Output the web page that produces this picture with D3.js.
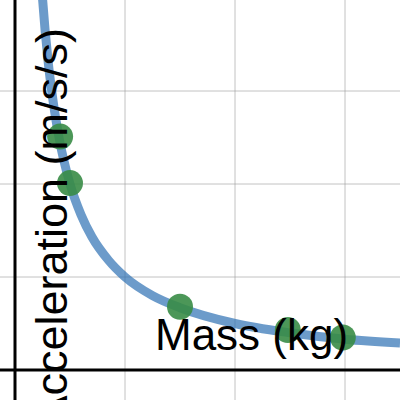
<!DOCTYPE html>
<html><head><meta charset="utf-8">
<script src="https://cdn.jsdelivr.net/npm/d3@7"></script>
<style>body{margin:0;background:#fff}svg{display:block}</style>
</head><body>
<svg id="c" width="400" height="400"></svg>
<script>
const pointX = [0.41, 0.5, 1.5, 2.48, 2.98];
const pointY = [2.51, 2.01, 0.68, 0.43, 0.35];
const curveX = [0.22, 0.25, 0.3, 0.35, 0.4, 0.5, 0.6, 0.7, 0.85, 1, 1.25, 1.5, 2, 2.5, 3, 3.5];
const curveY = [4.55, 4.0, 3.33, 2.86, 2.5, 2.0, 1.67, 1.43, 1.18, 1.0, 0.8, 0.67, 0.5, 0.4, 0.33, 0.29];
const gridX = [1, 2, 3];
const gridY = [1, 2, 3];
const xLabel = "Mass (kg)";
const yLabel = "Acceleration (m/s/s)";

const svg = d3.select("#c");
const x = d3.scaleLinear().domain([-15/110, 385/110]).range([0, 400]);
const y = d3.scaleLinear().domain([-30/93, 370/93]).range([400, 0]);

svg.selectAll(".gx").data(gridX).enter().append("line")
  .attr("x1", d => x(d)).attr("x2", d => x(d)).attr("y1", 0).attr("y2", 400)
  .attr("stroke", "#999").attr("stroke-opacity", 0.6).attr("stroke-width", 1);
svg.selectAll(".gy").data(gridY).enter().append("line")
  .attr("y1", d => y(d)).attr("y2", d => y(d)).attr("x1", 0).attr("x2", 400)
  .attr("stroke", "#999").attr("stroke-opacity", 0.6).attr("stroke-width", 1);
svg.append("line").attr("x1", x(0)).attr("x2", x(0)).attr("y1", 0).attr("y2", 400)
  .attr("stroke", "#000").attr("stroke-width", 3);
svg.append("line").attr("y1", y(0)).attr("y2", y(0)).attr("x1", 0).attr("x2", 400)
  .attr("stroke", "#000").attr("stroke-width", 3);

const line = d3.line().x(d => x(d[0])).y(d => y(d[1])).curve(d3.curveMonotoneX);
svg.append("path").datum(curveX.map((v, i) => [v, curveY[i]]))
  .attr("d", line).attr("fill", "none").attr("stroke", "#2d70b3")
  .attr("stroke-opacity", 0.7).attr("stroke-width", 9);

svg.selectAll(".pt").data(pointX).enter().append("circle")
  .attr("cx", d => x(d)).attr("cy", (d, i) => y(pointY[i])).attr("r", 13)
  .attr("fill", "#388c46").attr("fill-opacity", 0.9);

svg.append("text").attr("transform", `translate(${x(0)+52},28) rotate(-90)`)
  .attr("text-anchor", "end").attr("font-family", "Liberation Sans, Arial, sans-serif")
  .attr("font-size", 45).attr("fill", "#000").text(yLabel);

svg.append("text").attr("x", 155).attr("y", 350)
  .attr("font-family", "Liberation Sans, Arial, sans-serif")
  .attr("font-size", 44).attr("fill", "#000").text(xLabel);
</script>
</body></html>
